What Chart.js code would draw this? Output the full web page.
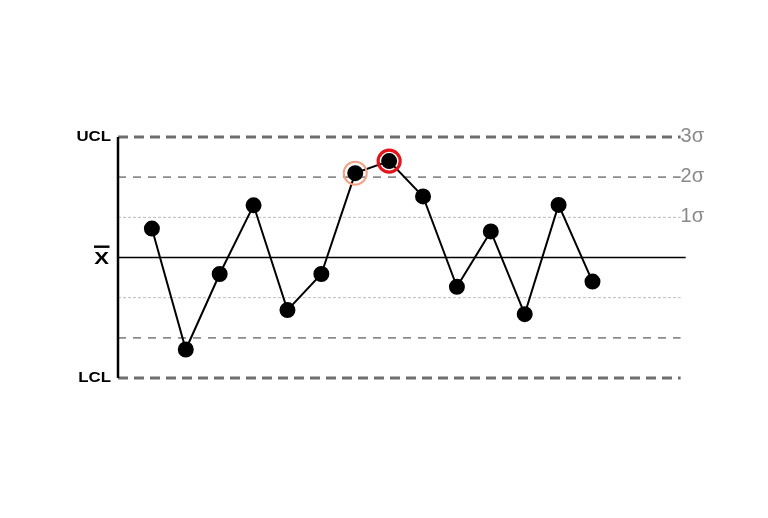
<!DOCTYPE html>
<html>
<head>
<meta charset="utf-8">
<script src="https://cdn.jsdelivr.net/npm/chart.js@4.4.1/dist/chart.umd.min.js"></script>
<style>
  html, body { margin: 0; padding: 0; background: #fff; }
  canvas { display: block; }
</style>
</head>
<body>
<canvas id="controlChart" width="768" height="518"></canvas>
<script>
// samples and their values, in sigma units from the mean
var samples = [1, 2, 3, 4, 5, 6, 7, 8, 9, 10, 11, 12, 13, 14];
var values = [0.72, -2.29, -0.41, 1.30, -1.31, -0.41, 2.10, 2.40, 1.52, -0.73, 0.65, -1.41, 1.31, -0.60];

// limit lines
var sigmaLevels = [3, 2, 1, 0, -1, -2, -3];
var rightLabels = ['3σ', '2σ', '1σ'];
var rightLevels = [3, 2, 1];
var leftLabels = ['UCL', 'X', 'LCL'];
var leftLevels = [3, 0, -3];

// flagged samples
var warnSample = 7;
var alarmSample = 8;

var xEnd = 16.6;
var xEndMean = 16.75;

function lineStyle(level) {
    var a = Math.abs(level);
    if (a === 3) return { color: '#6e6e6e', width: 3, dash: [10, 6] };
    if (a === 2) return { color: '#8c8c8c', width: 1.6, dash: [8, 7] };
    if (a === 1) return { color: '#c4b9bc', width: 1, dash: [3, 2] };
    return { color: '#000000', width: 1.6, dash: [] };
}

var datasets = [];

// rings round the flagged points
datasets.push({
    data: [{ x: alarmSample, y: values[alarmSample - 1] }],
    pointRadius: 11,
    pointBorderWidth: 3.2,
    pointBorderColor: '#e3151a',
    pointBackgroundColor: 'rgba(0,0,0,0)',
    showLine: false
});
datasets.push({
    data: [{ x: warnSample, y: values[warnSample - 1] }],
    pointRadius: 11.5,
    pointBorderWidth: 2,
    pointBorderColor: '#f3a284',
    pointBackgroundColor: 'rgba(0,0,0,0)',
    showLine: false
});

// the series
datasets.push({
    data: samples.map(function (s, i) { return { x: s, y: values[i] }; }),
    showLine: true,
    borderColor: '#000',
    borderWidth: 2,
    pointRadius: 7,
    pointBackgroundColor: '#000',
    pointBorderColor: '#000'
});

// y axis line
datasets.push({
    data: [{ x: 0, y: 3 }, { x: 0, y: -3 }],
    showLine: true,
    borderColor: '#000',
    borderWidth: 2.5,
    pointRadius: 0
});

// sigma lines
sigmaLevels.forEach(function (lv) {
    var st = lineStyle(lv);
    datasets.push({
        data: [{ x: 0, y: lv }, { x: lv === 0 ? xEndMean : xEnd, y: lv }],
        showLine: true,
        borderColor: st.color,
        borderWidth: st.width,
        borderDash: st.dash,
        pointRadius: 0
    });
});

var labelPlugin = {
    id: 'labels',
    afterDraw: function (chart) {
        var ctx = chart.ctx;
        var xs = chart.scales.x, ys = chart.scales.y;
        ctx.save();
        ctx.textBaseline = 'middle';

        // right side sigma labels
        ctx.fillStyle = '#8a8a8a';
        ctx.font = '20px "Liberation Sans", Arial, sans-serif';
        ctx.textAlign = 'left';
        rightLabels.forEach(function (t, i) {
            ctx.fillText(t, xs.getPixelForValue(xEnd), ys.getPixelForValue(rightLevels[i]) - 0.5);
        });

        // left side labels, a little wide like the original
        ctx.fillStyle = '#000';
        var x0 = xs.getPixelForValue(0);
        leftLabels.forEach(function (t, i) {
            var y = ys.getPixelForValue(leftLevels[i]);
            ctx.save();
            if (t === 'X') {
                ctx.translate(x0 - 16.5, y + 1.5);
                ctx.scale(1.3, 1);
                ctx.font = 'bold 17px "Liberation Sans", Arial, sans-serif';
                ctx.textAlign = 'center';
                ctx.fillText(t, 0, 0);
                ctx.restore();
                // bar over X
                ctx.fillRect(x0 - 24, y - 12, 15.5, 2.4);
            } else {
                ctx.translate(x0 - 7, y);
                ctx.scale(1.2, 1);
                ctx.font = 'bold 14px "Liberation Sans", Arial, sans-serif';
                ctx.textAlign = 'right';
                ctx.fillText(t, 0, 0);
                ctx.restore();
            }
        });
        ctx.restore();
    }
};

new Chart(document.getElementById('controlChart'), {
    type: 'scatter',
    data: { datasets: datasets },
    options: {
        responsive: false,
        animation: false,
        devicePixelRatio: 1,
        layout: { padding: { left: 118, right: 84, top: 137, bottom: 140 } },
        elements: { line: { tension: 0 } },
        datasets: { scatter: { clip: false } },
        plugins: {
            legend: { display: false },
            tooltip: { enabled: false }
        },
        scales: {
            x: { type: 'linear', min: 0, max: 16.7, display: false },
            y: { type: 'linear', min: -3, max: 3, display: false }
        }
    },
    plugins: [labelPlugin]
});
</script>
</body>
</html>
